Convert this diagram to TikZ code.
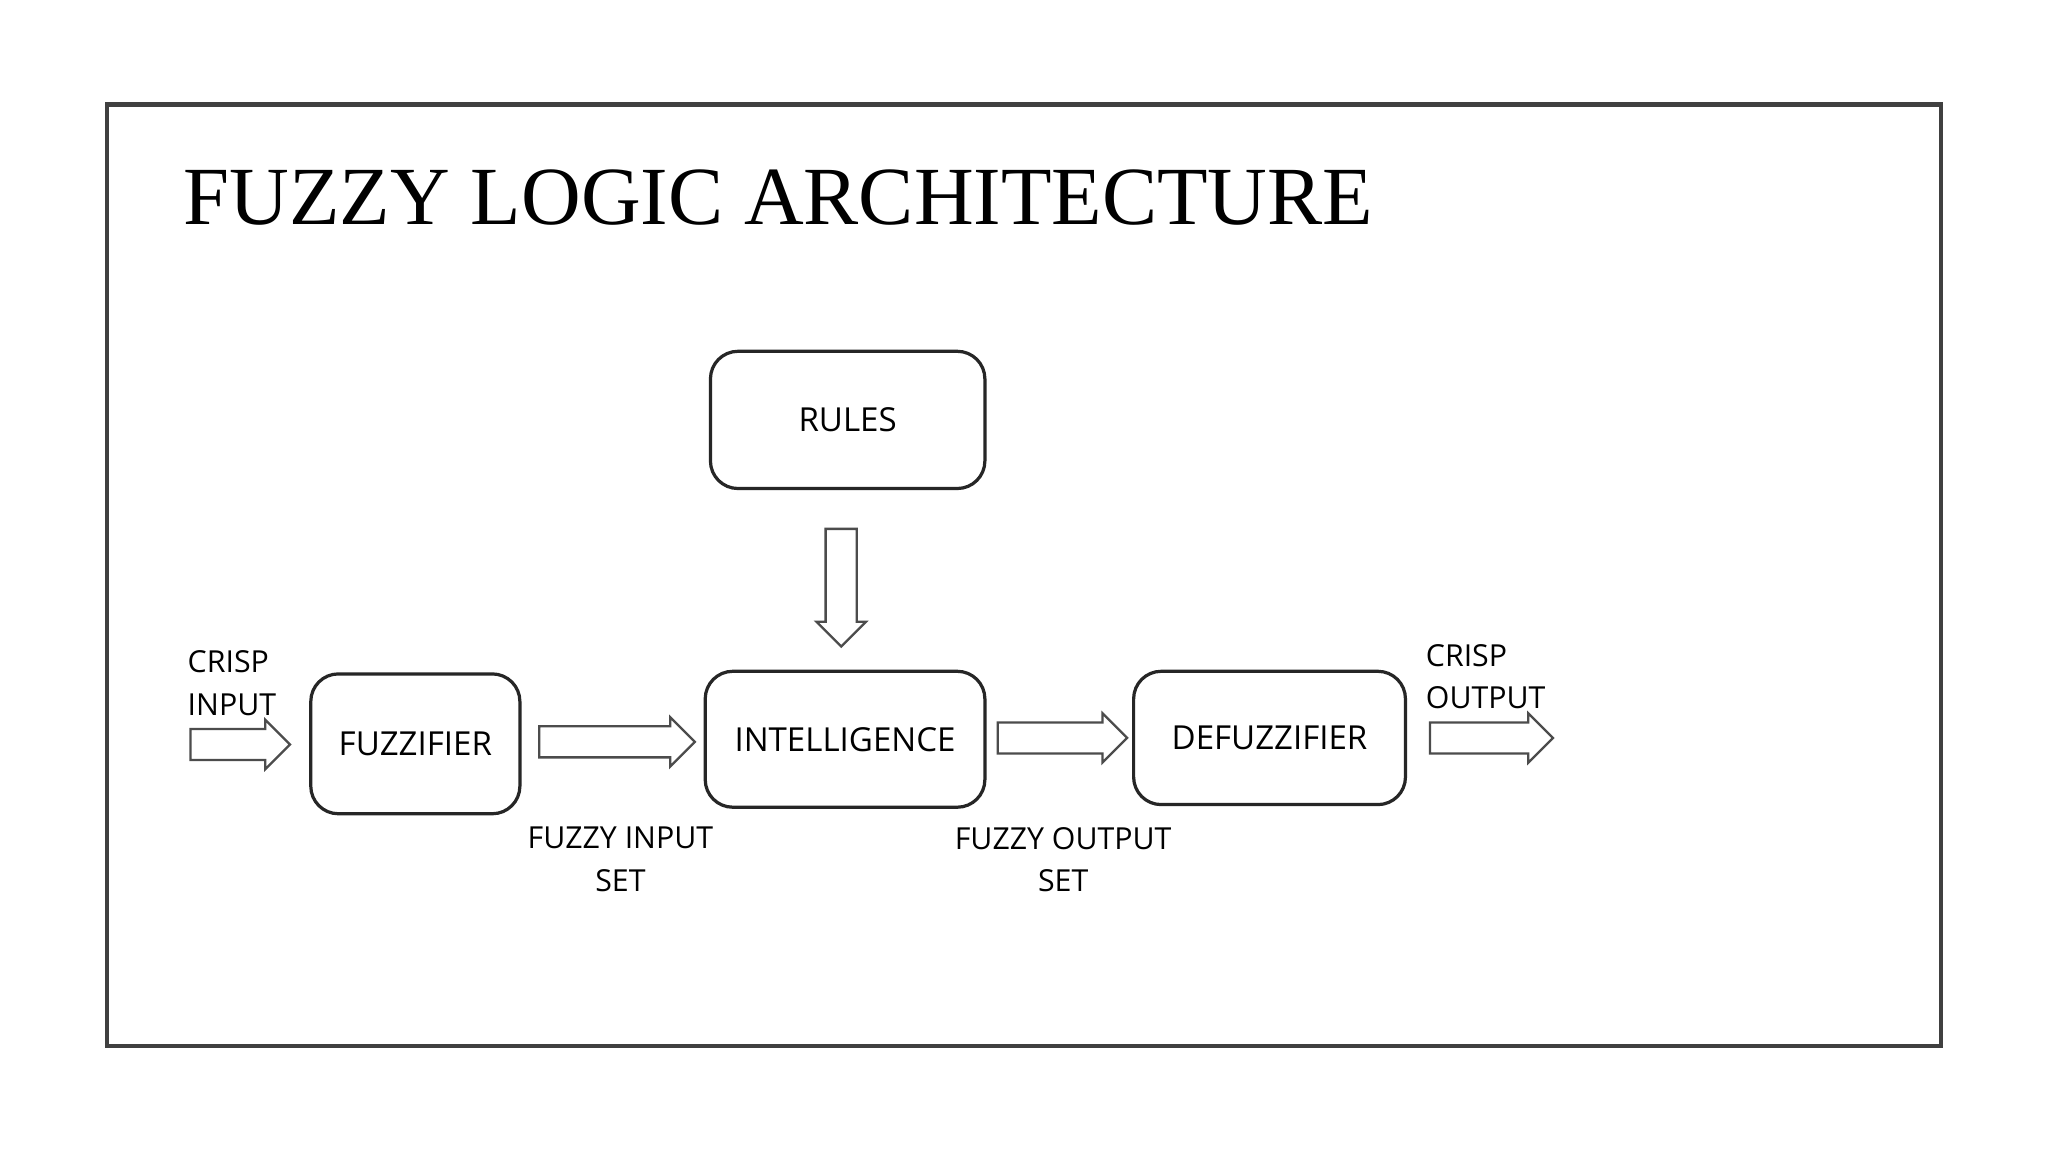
\documentclass[tikz,border=0pt]{standalone}
\usepackage{fontspec}
\setmainfont{Liberation Serif}
\newfontfamily\boxfont{Open Sans}
\usetikzlibrary{shapes.arrows}

\tikzset{
  blk/.style={draw=black!85,line width=0.7pt,rounded corners=6pt,font=\boxfont\fontsize{7.2}{8}\selectfont},
  barrow/.style={single arrow,draw=black!70,line width=0.5pt,inner xsep=0pt,inner ysep=0.11cm,
    single arrow head extend=0.07cm,single arrow tip angle=90},
  lbl/.style={font=\boxfont\fontsize{6.6}{9.2}\selectfont,inner sep=0pt}
}

\begin{document}
\begin{tikzpicture}[x=0.01cm,y=-0.01cm]
\useasboundingbox (0,0) rectangle (1568,882);
\fill[white] (0,0) rectangle (1568,882);

% frame and title
\draw[black!75,line width=1pt] (82,80) rectangle (1486,801);
\node[anchor=base west,inner sep=0pt,font=\fontsize{18}{18}\selectfont] (title) at (140,172) {FUZZY LOGIC ARCHITECTURE};

% blocks
\node[blk,minimum width=2.10cm,minimum height=1.05cm] (rules) at (649,321.5) {RULES};
\node[blk,minimum width=1.60cm,minimum height=1.07cm] (fuzz) at (318,569.5) {FUZZIFIER};
\node[blk,minimum width=2.14cm,minimum height=1.04cm] (intel) at (647,566) {INTELLIGENCE};
\node[blk,minimum width=2.08cm,minimum height=1.02cm] (defuzz) at (972,565) {DEFUZZIFIER};

% block arrows
\node[barrow,minimum height=0.76cm] (a1) at (178,570) {};
\node[barrow,minimum height=1.19cm] (a2) at (466.5,568) {};
\node[barrow,minimum height=0.99cm] (a3) at (807.5,565) {};
\node[barrow,minimum height=0.94cm] (a4) at (1136,565) {};
\node[barrow,minimum height=0.90cm,rotate=-90] (a5) at (644,444) {};

% labels
\node[lbl,align=left,anchor=west] (ci) at (143,523) {CRISP\\INPUT};
\node[lbl,align=center] (fis) at (475,658) {FUZZY INPUT\\SET};
\node[lbl,align=center] (fos) at (814,658) {FUZZY OUTPUT\\SET};
\node[lbl,align=left,anchor=west] (co) at (1091,518) {CRISP\\OUTPUT};
\end{tikzpicture}
\end{document}
